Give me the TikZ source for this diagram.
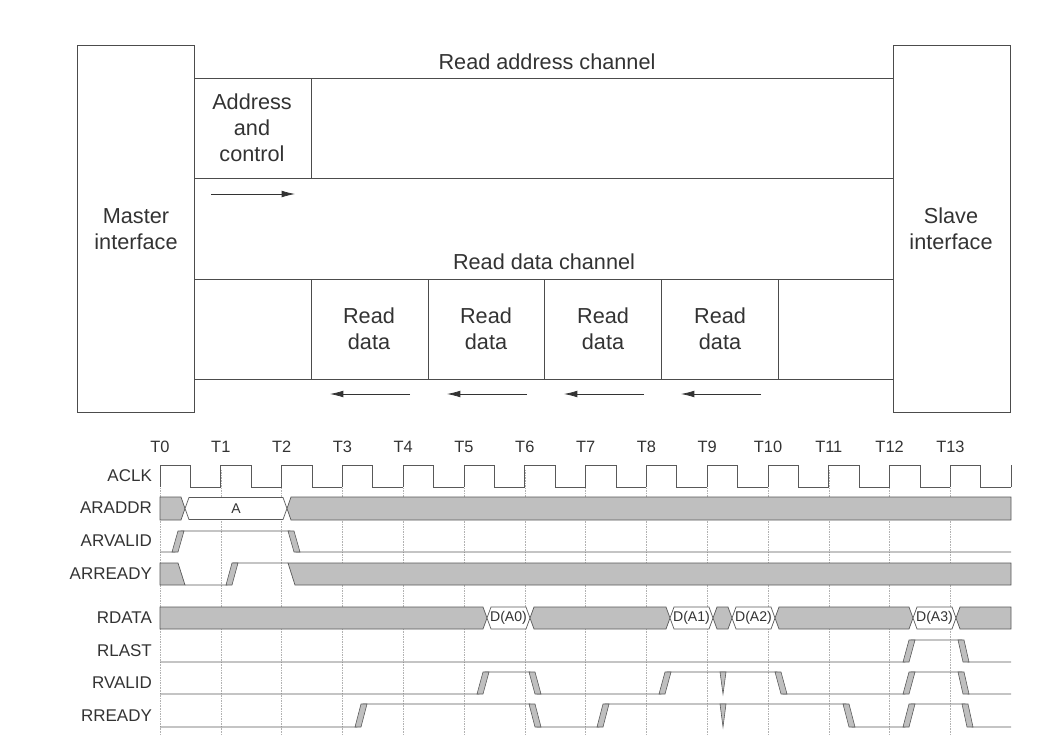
\documentclass[tikz,border=0pt]{standalone}
\usepackage{fontspec}
\setmainfont{Liberation Sans}
\usetikzlibrary{arrows.meta}

\tikzset{
  box/.style={draw=black!70, line width=0.5pt},
  lbl/.style={font=\fontsize{18.5}{22}\selectfont, text=black!80, align=center},
  sig/.style={font=\fontsize{14.5}{16}\selectfont, text=black!80, anchor=east},
  tick/.style={font=\fontsize{14}{16}\selectfont, text=black!80},
  wave/.style={draw=black!65, line width=0.6pt},
  band/.style={fill=black!25, draw=black!65, line width=0.5pt},
  grid/.style={black!30, densely dotted, line width=0.4pt},
  flow/.style={-{Latex[length=4mm,width=2mm]}, line width=0.6pt, black!80}
}

% slanted edge: x at start level, x at end level, start y, end y
\newcommand{\edg}[4]{\filldraw[band] (#1,#3) -- ++(6,0) -- ({#2+6},#4) -- (#2,#4) -- cycle;}
% bus cell with pointed ends
\newcommand{\buscell}[5]{\filldraw[wave,fill=#4] (#1,{(#3)}) -- ({#1+4},#3-11) -- ({#2-4},#3-11) -- (#2,#3) -- ({#2-4},#3+11) -- ({#1+4},#3+11) -- cycle;
  \node[font=\fontsize{12}{14}\selectfont, text=black!80] at ({(#1+#2)/2},#3) {#5};}

\begin{document}
\begin{tikzpicture}[x=0.3mm, y=-0.3mm]
  \useasboundingbox (0,0) rectangle (1042,748);

  % block diagram
  \draw[box] (77,45) rectangle (194,412);
  \draw[box] (893,45) rectangle (1010,412);
  \node[lbl] (master) at (136,229) {Master\\interface};
  \node[lbl] (slave) at (951,229) {Slave\\interface};

  \draw[box] (194,78) -- (893,78) (194,178) -- (893,178) (311,78) -- (311,178);
  \node[lbl] (rachan) at (547,62) {Read address channel};
  \node[lbl] (addr) at (252,128) {Address\\and\\control};
  \coordinate (aa) at (211,194);
  \coordinate (ab) at (295,194);
  \draw[flow] (aa) -- (ab);

  \draw[box] (194,279) -- (893,279) (194,379) -- (893,379);
  \foreach \x in {311,428,544,661,778}
    \draw[box] (\x,279) -- (\x,379);
  \node[lbl] (rdchan) at (544,262) {Read data channel};
  \foreach \x/\n in {369/1,486/2,603/3,720/4} {
    \node[lbl] (rd\n) at (\x,329) {Read\\data};
    \coordinate (s\n) at (\x+41,394);
    \coordinate (e\n) at (\x-39,394);
    \draw[flow] (s\n) -- (e\n);
  }

  % timing diagram
  \foreach \k in {0,...,13} {
    \draw[grid] ({160+60.8*\k},470) -- ({160+60.8*\k},735);
    \node[tick] (t\k) at ({160+60.8*\k},447) {T\k};
  }
  \foreach \n/\y/\s in {aclk/476/ACLK, araddr/508/ARADDR, arvalid/541/ARVALID,
      arready/574/ARREADY, rdata/618/RDATA, rlast/651/RLAST, rvalid/683/RVALID, rready/716/RREADY}
    \node[sig] (\n) at (156,\y) {\s};

  % ACLK
  \foreach \k in {0,...,13}
    \draw[wave] ({160+60.8*\k},487) -- ({160+60.8*\k},465) -- ({190.4+60.8*\k},465)
      -- ({190.4+60.8*\k},487) -- ({220.8+60.8*\k},487);
  \draw[wave] (1011,487) -- (1011,465);

  % ARADDR
  \filldraw[wave,fill=black!25] (160,497) -- (181,497) -- (185,508.5) -- (181,520) -- (160,520) -- cycle;
  \buscell{185}{287}{508.5}{white}{A}
  \filldraw[wave,fill=black!25] (1011,497) -- (291,497) -- (287,508.5) -- (291,520) -- (1011,520) -- cycle;

  % ARVALID
  \draw[wave] (160,552) -- (175,552) -- (181,531) -- (290,531) -- (296,552) -- (1011,552);
  \edg{172}{178}{552}{531}
  \edg{288}{294}{531}{552}

  % ARREADY
  \filldraw[wave,fill=black!25] (160,563) -- (178,563) -- (185,585) -- (160,585) -- cycle;
  \draw[wave] (185,585) -- (227,585) -- (233,563) -- (288,563);
  \edg{226}{232}{585}{563}
  \filldraw[wave,fill=black!25] (288,563) -- (1011,563) -- (1011,585) -- (295,585) -- cycle;

  % RDATA
  \filldraw[wave,fill=black!25] (160,607) -- (483,607) -- (487,618) -- (483,629) -- (160,629) -- cycle;
  \buscell{487}{530}{618}{white}{D(A0)}
  \buscell{530}{670}{618}{black!25}{}
  \buscell{670}{713}{618}{white}{D(A1)}
  \buscell{713}{732}{618}{black!25}{}
  \buscell{732}{775}{618}{white}{D(A2)}
  \buscell{775}{913}{618}{black!25}{}
  \buscell{913}{956}{618}{white}{D(A3)}
  \filldraw[wave,fill=black!25] (1011,607) -- (960,607) -- (956,618) -- (960,629) -- (1011,629) -- cycle;

  % RLAST
  \draw[wave] (160,662) -- (905,662) -- (911,640) -- (962,640) -- (968,662) -- (1011,662);
  \edg{903}{909}{662}{640}
  \edg{958}{963}{640}{662}

  % RVALID
  \draw[wave] (160,694) -- (479,694) -- (485,672) -- (530,672) -- (537,694) -- (661,694)
    -- (667,672) -- (777,672) -- (783,694) -- (905,694) -- (911,672) -- (962,672) -- (968,694) -- (1011,694);
  \edg{477}{483}{694}{672}
  \edg{529}{535}{672}{694}
  \edg{659}{665}{694}{672}
  \edg{775}{781}{672}{694}
  \edg{903}{909}{694}{672}
  \edg{958}{963}{672}{694}
  \filldraw[band] (720,672) -- (726,672) -- (723,694) -- cycle;

  % RREADY
  \draw[wave] (160,727) -- (357,727) -- (363,704) -- (530,704) -- (537,727) -- (599,727)
    -- (605,704) -- (846,704) -- (852,727) -- (905,727) -- (911,704) -- (965,704) -- (972,727) -- (1011,727);
  \edg{355}{361}{727}{704}
  \edg{529}{535}{704}{727}
  \edg{597}{603}{727}{704}
  \edg{843}{849}{704}{727}
  \edg{903}{909}{727}{704}
  \edg{962}{967}{704}{727}
  \filldraw[band] (720,704) -- (726,704) -- (723,727) -- cycle;
\end{tikzpicture}
\end{document}
